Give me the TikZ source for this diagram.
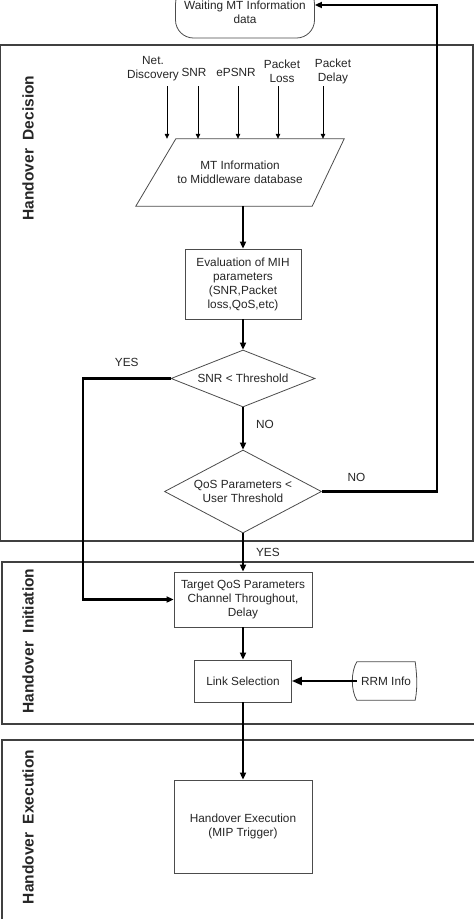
\documentclass[tikz,border=0pt]{standalone}
\usepackage{fontspec}
\setmainfont{Liberation Sans}
\usetikzlibrary{shapes.geometric,arrows.meta,positioning}

\begin{document}
\begin{tikzpicture}[x=1pt, y=-1pt,
  txt/.style = {font=\fontsize{11.8}{14}\selectfont, align=center, text=black!85},
  box/.style = {txt, draw=black!70, line width=0.8pt, fill=white, inner sep=2pt},
  dec/.style = {box, diamond, inner sep=0pt},
  lbl/.style = {txt, inner sep=1pt},
  lane/.style = {draw=black!75, line width=1.3pt},
  lanetitle/.style = {font=\fontsize{15.5}{18}\selectfont\bfseries, rotate=90, text=black!85},
  flow/.style = {line width=2.2pt, -{Triangle[length=7pt,width=6pt]}},
  feed/.style = {line width=0.7pt, -{Triangle[length=5pt,width=4.5pt]}}]
\fill[white, use as bounding box] (0,0) rectangle (474,919);

\draw[lane] (0.5,45) rectangle (473,541);
\draw[lane] (2,562) rectangle (480,724);
\draw[lane] (2,740) rectangle (480,930);
\node[lanetitle] (decision) at (28,148) {Handover\ \ Decision};
\node[lanetitle] (initiation) at (28,641) {Handover\ \ Initiation};
\node[lanetitle] (execution) at (28,827) {Handover\ \ Execution};

\node[box, rounded corners=18pt, minimum width=139pt, minimum height=52pt] (wait) at (245,12) {Waiting MT Information\\data};

\node[lbl] (net) at (153,69) {Net.\\Discovery};
\node[lbl] (snrin) at (194,72) {SNR};
\node[lbl] (epsnr) at (236,72) {ePSNR};
\node[lbl] (loss) at (282,71) {Packet\\Loss};
\node[lbl] (delay) at (333,71) {Packet\\Delay};

\node[txt, minimum width=208pt, minimum height=67pt] (db) at (240,172.5) {MT Information\\to Middleware database};
\draw[draw=black!70, line width=0.8pt] ([xshift=40pt]db.north west) -- (db.north east) -- ([xshift=-32pt]db.south east) -- (db.south west) -- cycle;
\node[box, minimum width=116pt, minimum height=70pt] (eval) at (243,284) {Evaluation of MIH\\parameters\\(SNR,Packet\\loss,QoS,etc)};
\node[dec, aspect=2.5, minimum width=144pt, minimum height=57pt] (snrchk) at (243,378.5) {SNR < Threshold};
\node[dec, aspect=1.9, minimum width=157pt, minimum height=83pt] (qoschk) at (243,491.5) {QoS Parameters <\\User Threshold};
\node[box, minimum width=138pt, minimum height=55pt] (target) at (243,599.5) {Target QoS Parameters\\Channel Throughout,\\Delay};
\node[box, minimum width=97pt, minimum height=42pt] (link) at (243,681) {Link Selection};
\node[txt, minimum width=58pt, minimum height=38pt] (rrm) at (386,681) {RRM Info};
\draw[draw=black!70, line width=0.8pt] (rrm.north west) .. controls +(-6,10) and +(-6,-10) .. (rrm.south west) -- (rrm.south east) .. controls +(3,-15) and +(1,8) .. (rrm.north east) -- cycle;
\node[box, minimum width=138pt, minimum height=93pt] (exec) at (243,826.5) {Handover Execution\\(MIP Trigger)};

\coordinate (top) at (0,86);
\foreach \n/\x in {net/167, snrin/198, epsnr/238, loss/278, delay/323}
  \draw[feed] (\x,0 |- top) -- (\x,0 |- db.north);

\draw[flow] (eval.north |- db.south) -- (eval.north);
\draw[flow] (eval) -- (snrchk);
\draw[flow] (snrchk) -- node[lbl, right=11pt, pos=0.4]{NO} (qoschk);
\draw[flow] (qoschk) -- node[lbl, right=11pt]{YES} (target);
\draw[flow] (target) -- (link);
\draw[flow] (link) -- (exec);
\draw[flow, -{Triangle[length=10pt,width=8pt]}] (rrm) -- (link);

\coordinate (byp) at (83,378.5);
\draw[flow] (snrchk.west) -- node[lbl, above=10pt]{YES} (byp) |- (target.west);
\coordinate (loop) at (437,5);
\draw[flow] (qoschk.east) -- node[lbl, above=8pt, pos=0.3]{NO} (qoschk.east -| loop) -- (loop) -- (loop -| wait.east);
\end{tikzpicture}
\end{document}
